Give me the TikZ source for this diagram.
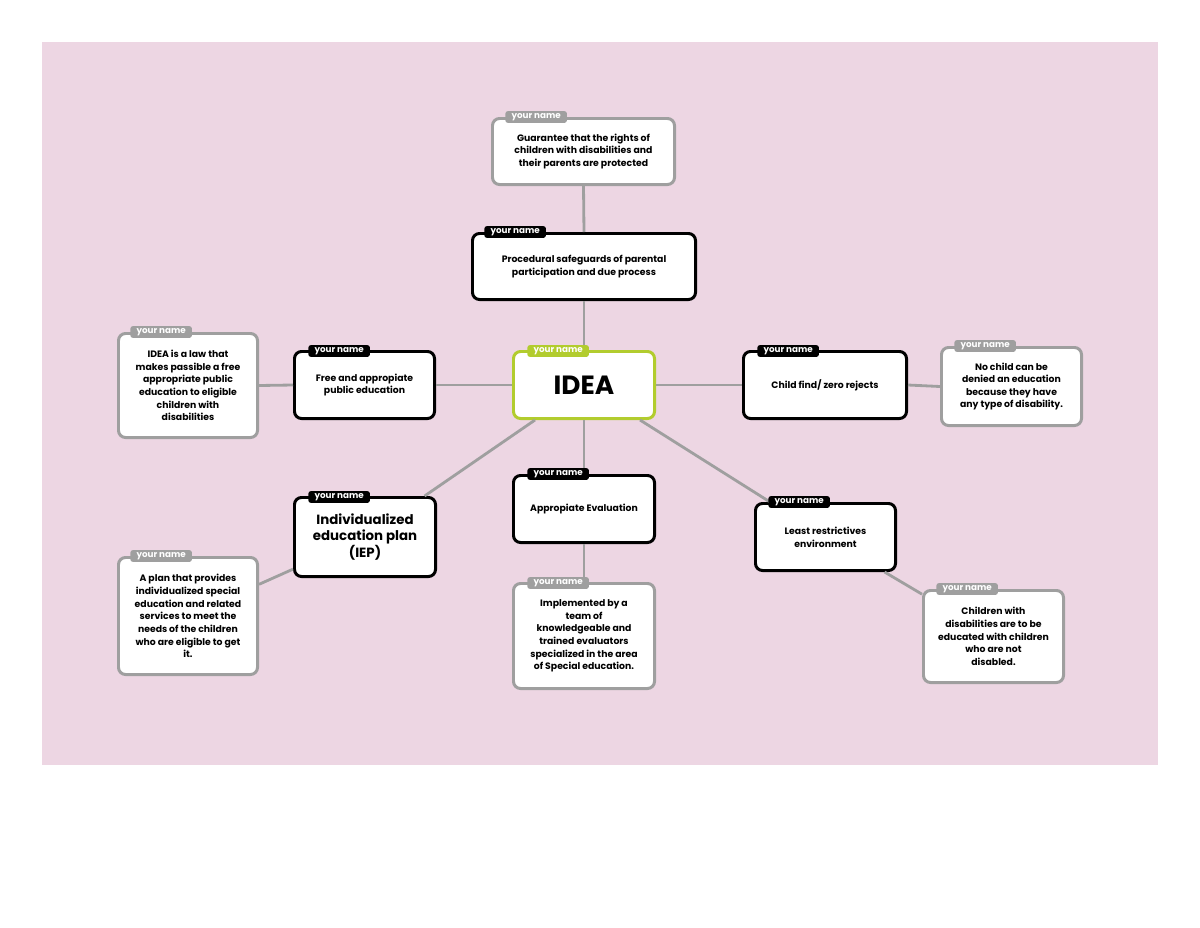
\documentclass[tikz,border=0pt]{standalone}
\usepackage{fontspec}
\setmainfont{Poppins}
\begin{document}
\begin{tikzpicture}[x=0.02cm,y=-0.02cm,
  box/.style={draw=black,fill=white,line width=1.7pt,rounded corners=4pt,align=center,inner sep=2pt,font=\fontsize{5.3}{7.2}\selectfont\bfseries},
  gbox/.style={box,draw=gray!75},
  tag/.style={fill=black,text=white,rounded corners=1.5pt,inner xsep=3.5pt,inner ysep=1.3pt,font=\fontsize{5}{5.5}\selectfont\bfseries,anchor=west},
  gtag/.style={tag,fill=gray!75},
  link/.style={draw=gray!75,line width=1.6pt}]
\useasboundingbox (0,0) rectangle (1200,927);
\fill[fill={rgb,255:red,237;green,214;blue,227}] (42,42) rectangle (1158,765);
\newcommand{\bx}[6]{\node[#1,minimum width=#4*0.02cm-1.7pt,minimum height=#5*0.02cm-1.7pt] (#2) at (#3) {#6};}
\bx{gbox}{g}{583.5,151.5}{185}{69}{Guarantee that the rights of\\children with disabilities and\\their parents are protected}
\bx{box}{p}{584,266.5}{226}{69}{Procedural safeguards of parental\\participation and due process}
\node[box,draw={rgb,255:red,178;green,204;blue,46},minimum width=144*0.02cm-1.7pt,minimum height=70*0.02cm-1.7pt,font=\fontsize{15}{16}\selectfont\bfseries] (idea) at (584,385) {IDEA};
\bx{box}{f}{364.5,385}{143}{70}{Free and appropiate\\public education}
\bx{gbox}{law}{188,385.5}{142}{107}{IDEA is a law that\\makes passible a free\\appropriate public\\education to eligible\\children with\\disabilities}
\bx{box}{c}{825,385}{166}{70}{Child find/ zero rejects}
\bx{gbox}{nc}{1011.5,386.5}{143}{81}{No child can be\\denied an education\\because they have\\any type of disability.}
\node[box,minimum width=144*0.02cm-1.7pt,minimum height=82*0.02cm-1.7pt,font=\fontsize{7.6}{9.4}\selectfont\bfseries] (iep) at (365,537) {Individualized\\education plan\\(IEP)};
\bx{gbox}{ap}{188,616}{142}{120}{A plan that provides\\individualized special\\education and related\\services to meet the\\needs of the children\\who are eligible to get\\it.}
\bx{box}{ae}{584,509}{144}{70}{Appropiate Evaluation}
\bx{gbox}{im}{584,636}{144}{108}{Implemented by a\\team of\\knowledgeable and\\trained evaluators\\specialized in the area\\of Special education.}
\bx{box}{lr}{825.5,537}{143}{70}{Least restrictives\\environment}
\bx{gbox}{cw}{993.5,636.5}{143}{95}{Children with\\disabilities are to be\\educated with children\\who are not\\disabled.}
\draw[link] (g.south) -- (p.north);
\draw[link] (p.south) -- (idea.north);
\draw[link] (idea.west) -- (f.east);
\draw[link] (f.west) -- (law.east);
\draw[link] (idea.east) -- (c.west);
\draw[link] (c.east) -- (nc.west);
\draw[link] (idea.south) -- (ae.north);
\draw[link] (ae.south) -- (im.north);
\path (idea.south west) ++(23,0) coordinate (i1);
\draw[link] (i1) -- (iep);
\path (idea.south east) ++(-16,0) coordinate (i2);
\draw[link] (i2) -- (lr);
\draw[link] (iep) -- (ap);
\draw[link] (lr) -- (cw);
\node[gtag] (tg) at (505,117) {your name};
\node[tag] (tp) at (484,232) {your name};
\node[tag,fill={rgb,255:red,178;green,204;blue,46}] (ti) at (527,351) {your name};
\node[tag] (tf) at (308,351) {your name};
\node[gtag] (tl) at (130,332) {your name};
\node[tag] (tc) at (757,351) {your name};
\node[gtag] (tn) at (954,346) {your name};
\node[tag] (tiep) at (308,497) {your name};
\node[gtag] (tap) at (130,556) {your name};
\node[tag] (tae) at (527,474) {your name};
\node[gtag] (tim) at (527,583) {your name};
\node[tag] (tlr) at (768,502) {your name};
\node[gtag] (tcw) at (936,589) {your name};
\end{tikzpicture}
\end{document}
